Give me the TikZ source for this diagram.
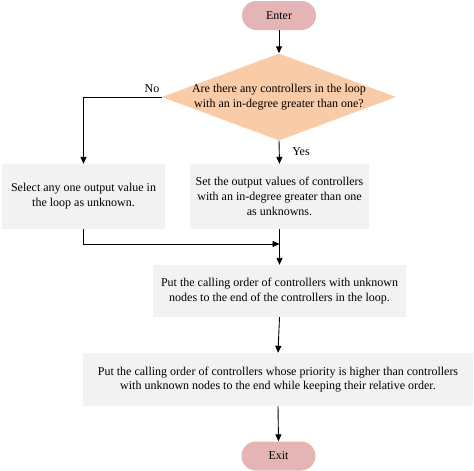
\documentclass[tikz,border=0pt]{standalone}
\usepackage{fontspec}
\setmainfont{Liberation Serif}
\usepackage{tikz}
\usetikzlibrary{arrows.meta, shapes.geometric, positioning}

\definecolor{termfill}{HTML}{E4B5B4}
\definecolor{decfill}{HTML}{F9CBA7}
\definecolor{boxfill}{HTML}{F2F2F2}

\tikzset{
    term/.style={fill=termfill, rounded corners=14.5pt, minimum width=74pt, minimum height=29pt, inner sep=0pt},
    decision/.style={diamond, fill=decfill, minimum width=234pt, minimum height=87pt, inner sep=0pt},
    procbox/.style={fill=boxfill, align=center, inner sep=0pt},
    flow/.style={-{Triangle[length=7pt, width=6pt]}, line width=0.9pt}
}

\begin{document}
\begin{tikzpicture}[x=1pt, y=-1pt, font=\fontsize{12}{14.8}\selectfont]

    % Cadre
    \useasboundingbox (0,0) rectangle (474,471);

    % Debut / fin
    \node[term] (enter) at (279,15.5) {Enter};
    \node[term] (exit) at (278.5,456) {Exit};

    % Test
    \node[decision] (dec) at (279,97) {};
    \node[align=center] (dectext) at (dec) {Are there any controllers in the loop\\with an in-degree greater than one?};

    % Branches
    \node[procbox, minimum width=163pt, minimum height=65pt] (sel) at (83.5,196.5)
        {Select any one output value in\\the loop as unknown.};
    \node[procbox, minimum width=179pt, minimum height=65pt] (set) at (279.5,196.5)
        {Set the output values of controllers\\with an in-degree greater than one\\as unknowns.};

    % Suite
    \node[procbox, minimum width=253pt, minimum height=52pt] (put) at (279.5,291)
        {Put the calling order of controllers with unknown\\nodes to the end of the controllers in the loop.};
    \node[procbox, minimum width=390pt, minimum height=53pt] (prio) at (278,379.5)
        {Put the calling order of controllers whose priority is higher than controllers\\with unknown nodes to the end while keeping their relative order.};

    % Fleches
    \coordinate (nocorner) at (sel.north |- dec.west);
    \coordinate (join) at (set.south |- 0,244);
    \draw[flow] (enter) -- (dec.north);
    \draw[flow] (dec.west) -- (nocorner) -- (sel.north);
    \draw[flow] (dec.south) -- (set.north);
    \draw[flow] (sel.south) |- (join);
    \draw[flow] (set.south) -- (put.north);
    \draw[flow] (put.south) -- (prio.north);
    \draw[flow] (prio.south) -- (exit.north);

    % Etiquettes
    \node (no) at (152,89) {No};
    \node (yes) at (301,152) {Yes};

\end{tikzpicture}
\end{document}
